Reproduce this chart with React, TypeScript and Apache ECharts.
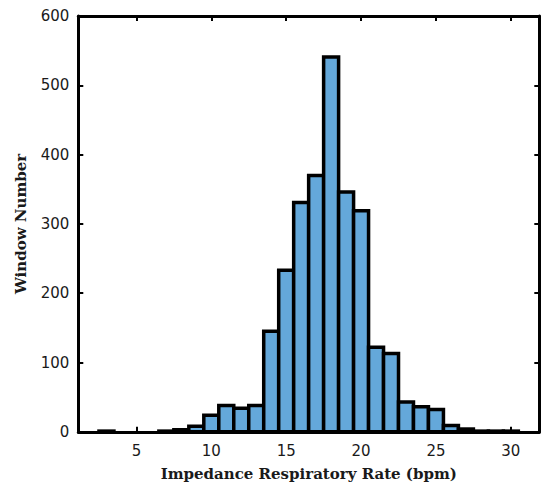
import React, { useEffect, useRef } from "react";
import * as echarts from "echarts";

const binCenters = [3, 7, 8, 9, 10, 11, 12, 13, 14, 15, 16, 17, 18, 19, 20, 21, 22, 23, 24, 25, 26, 27, 28, 29, 30];
const counts = [1, 1, 3, 8, 24, 38, 34, 38, 145, 233, 331, 370, 541, 346, 319, 122, 113, 43, 36, 32, 9, 4, 1, 1, 1];
const binWidth = 1;
const xTicks = [5, 10, 15, 20, 25, 30];
const xTitle = "Impedance Respiratory Rate (bpm)";
const yTitle = "Window Number";

export default function App() {
  const ref = useRef<HTMLDivElement>(null);
  useEffect(() => {
    if (!ref.current) return;
    const chart = echarts.init(ref.current, null, { renderer: "svg" });
    const data = binCenters.map((c, i) => [c, counts[i]]);
    const tickStyle = { show: true, inside: true, length: 5, lineStyle: { color: "#000", width: 2 } };
    const lineStyle = { show: true, onZero: false, lineStyle: { color: "#000", width: 3 } };
    const labelColor = "#1a1a1a";
    chart.setOption({
      animation: false,
      grid: { left: 78.3, right: 10.7, top: 16, bottom: 55.2, containLabel: false },
      xAxis: [
        {
          type: "value",
          min: 1.12,
          max: 31.9,
          position: "bottom",
          axisLine: lineStyle,
          axisTick: { ...tickStyle, customValues: xTicks },
          axisLabel: {
            customValues: xTicks,
            fontFamily: "DejaVu Sans",
            fontSize: 15,
            color: labelColor,
            margin: 12,
          },
          splitLine: { show: false },
          name: xTitle,
          nameLocation: "middle",
          nameGap: 35,
          nameTextStyle: {
            fontFamily: "DejaVu Serif",
            fontWeight: "bold",
            fontSize: 15,
            color: "#1a1a1a",
          },
        },
        {
          type: "value",
          min: 1.12,
          max: 31.9,
          position: "top",
          axisLine: lineStyle,
          axisTick: { ...tickStyle, customValues: xTicks },
          axisLabel: { show: false },
          splitLine: { show: false },
        },
      ],
      yAxis: [
        {
          type: "value",
          min: 0,
          max: 600,
          interval: 100,
          position: "left",
          axisLine: lineStyle,
          axisTick: tickStyle,
          axisLabel: {
            fontFamily: "DejaVu Sans",
            fontSize: 15,
            color: labelColor,
            margin: 9,
          },
          splitLine: { show: false },
          name: yTitle,
          nameLocation: "middle",
          nameGap: 50,
          nameTextStyle: {
            fontFamily: "DejaVu Serif",
            fontWeight: "bold",
            fontSize: 15,
            color: "#1a1a1a",
          },
        },
        {
          type: "value",
          min: 0,
          max: 600,
          interval: 100,
          position: "right",
          axisLine: lineStyle,
          axisTick: tickStyle,
          axisLabel: { show: false },
          splitLine: { show: false },
        },
      ],
      series: [
        {
          type: "custom",
          xAxisIndex: 0,
          yAxisIndex: 0,
          data,
          renderItem: (params: any, api: any) => {
            const c = api.value(0);
            const v = api.value(1);
            const p0 = api.coord([c - binWidth / 2, v]);
            const p1 = api.coord([c + binWidth / 2, 0]);
            return {
              type: "rect",
              shape: { x: p0[0], y: p0[1], width: p1[0] - p0[0], height: p1[1] - p0[1] },
              style: { fill: "#64a8da", stroke: "#000", lineWidth: 3.5 },
            };
          },
        },
      ],
    });
    return () => chart.dispose();
  }, []);
  return (
    <div
      ref={ref}
      style={{ position: "fixed", left: 0, top: 0, width: 550, height: 487, background: "#fff" }}
    />
  );
}
